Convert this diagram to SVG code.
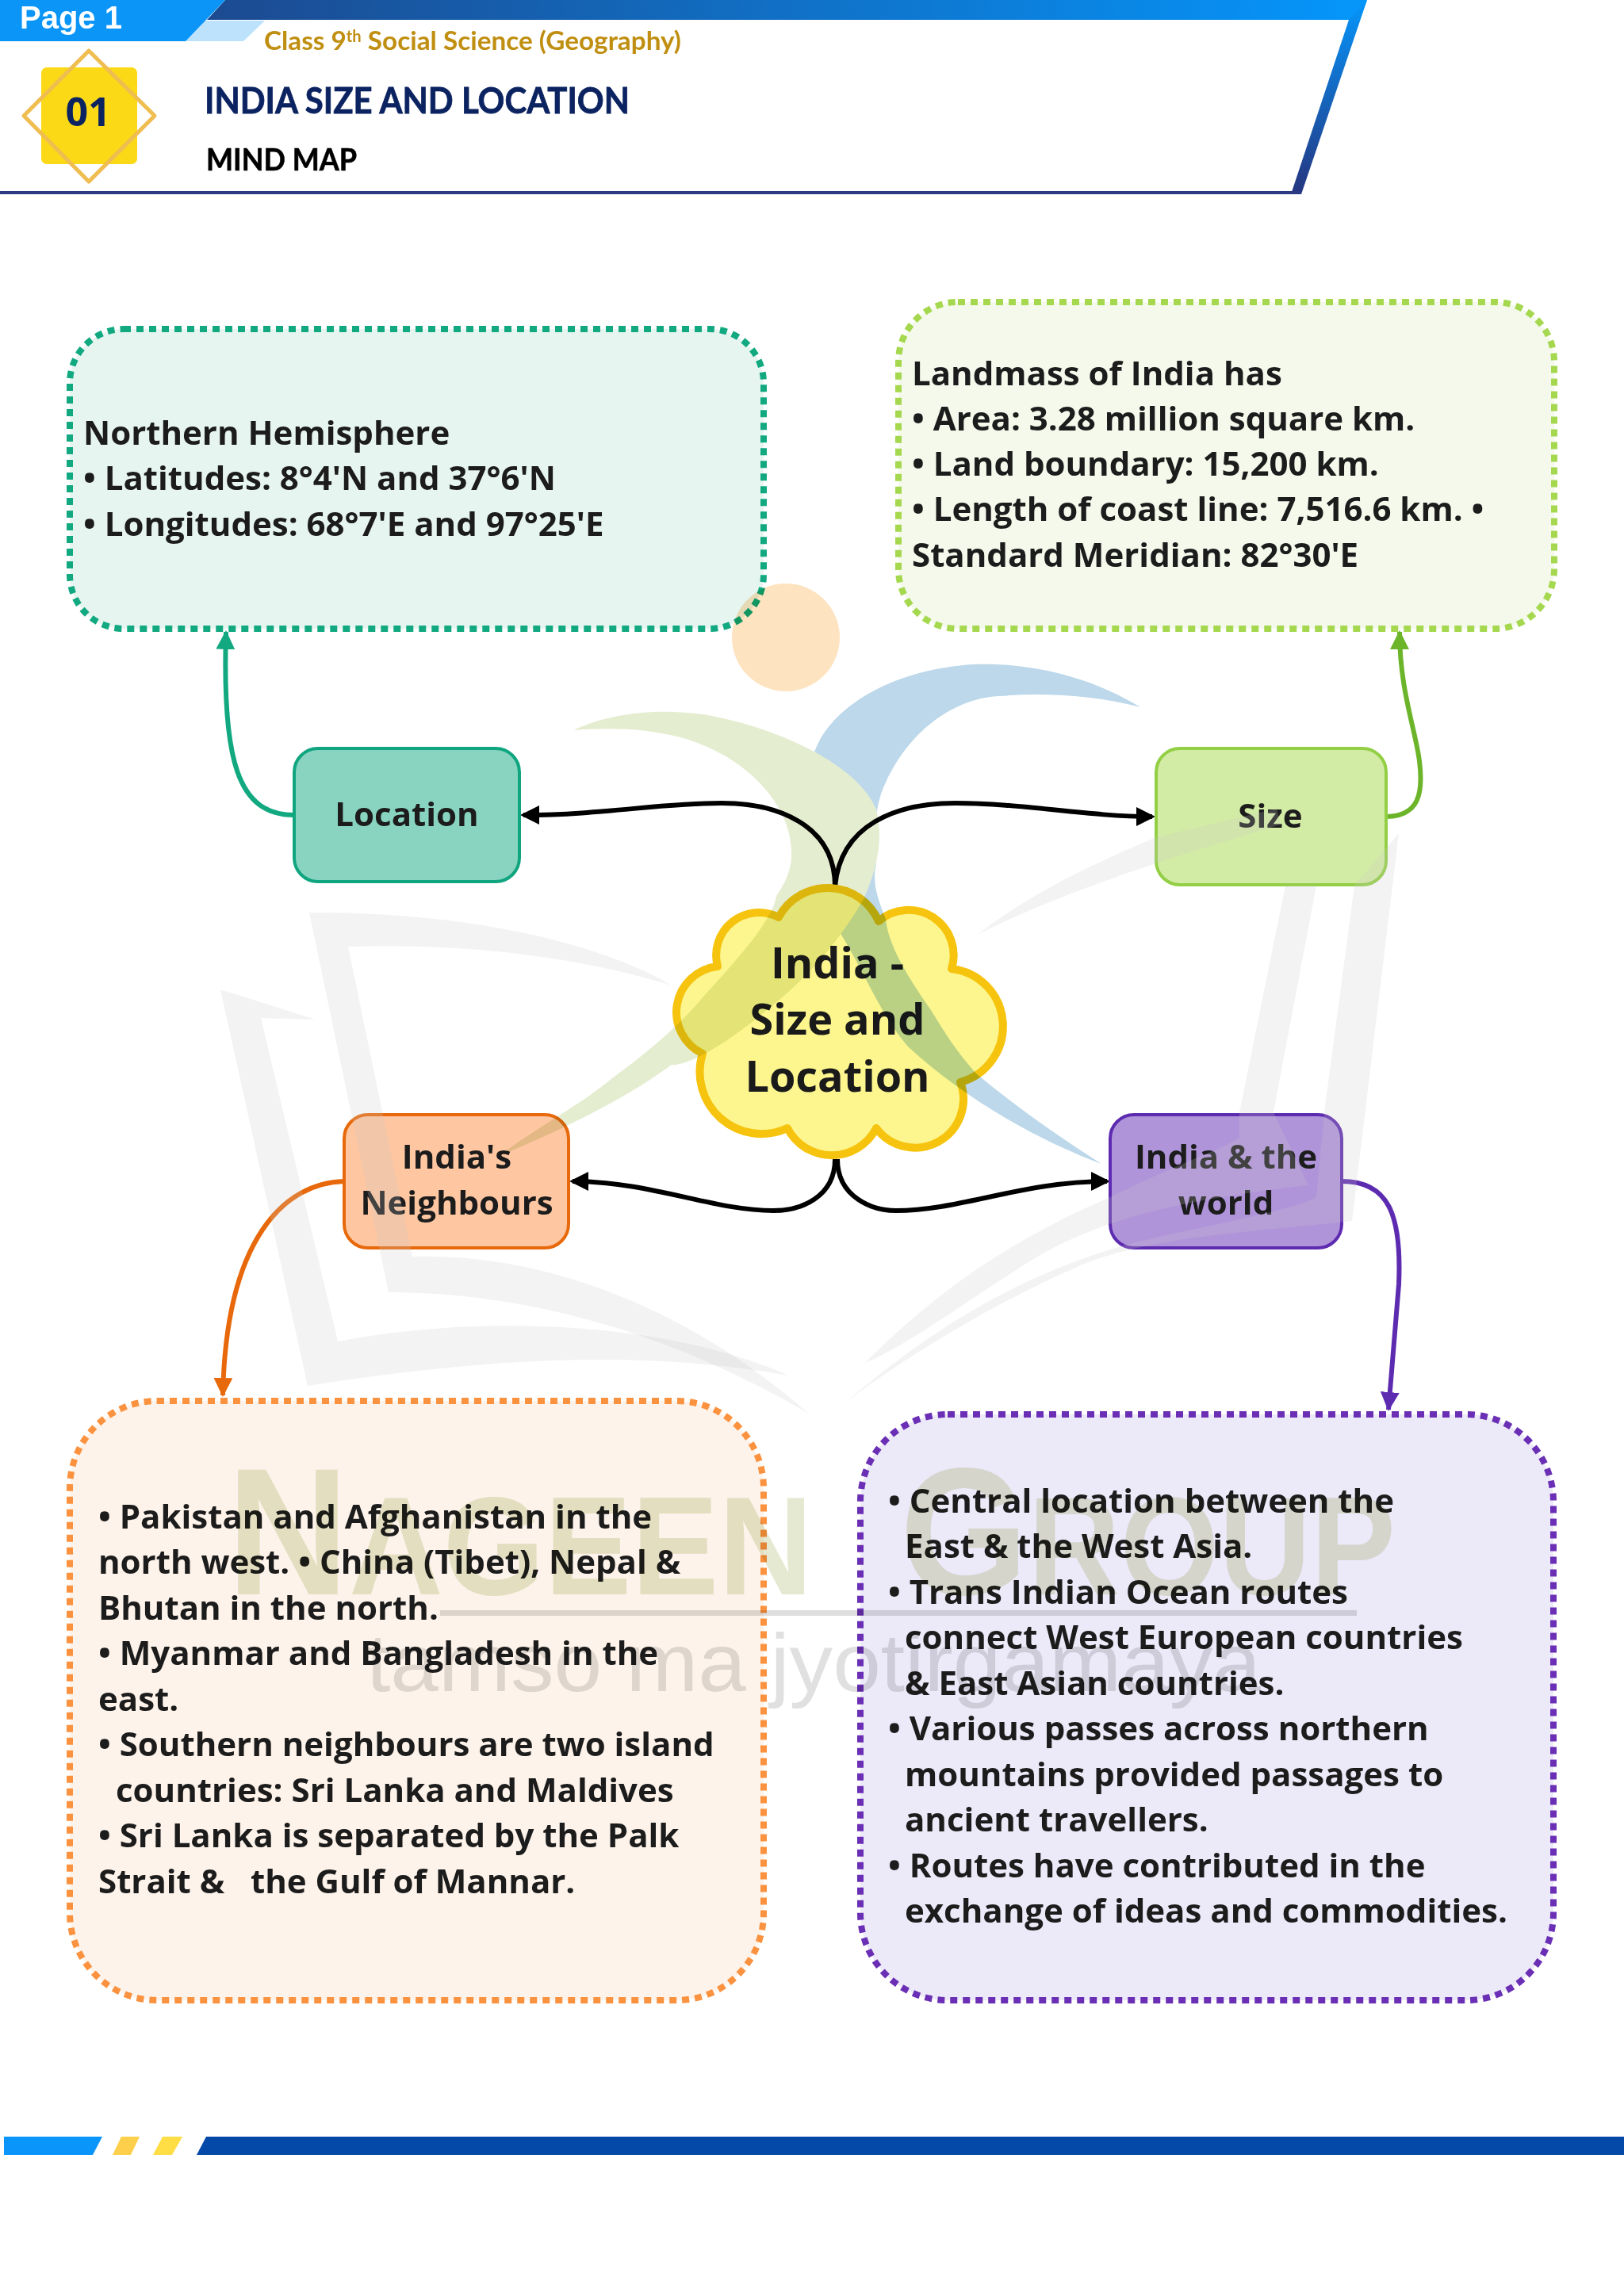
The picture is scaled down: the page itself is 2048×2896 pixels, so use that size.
<svg xmlns="http://www.w3.org/2000/svg" width="2048" height="2896" viewBox="0 0 2048 2896">
<style>
text{font-family:"Open Sans","Noto Sans","Liberation Sans",sans-serif;white-space:pre}
.b{font-size:42px;font-weight:700;fill:#1c1c1c}
.n{font-size:42px;font-weight:700;fill:#1c1c1c;text-anchor:middle}
.c{font-size:54px;font-weight:700;fill:#1a1a1a;text-anchor:middle}
.h{font-family:Lato,"Open Sans",sans-serif;font-weight:700}
.k{fill:none;stroke:#000;stroke-width:6}
.l{fill:none;stroke-width:6}
.d{stroke-width:8;stroke-dasharray:9 7}
.g{fill:#c8c8c8;opacity:.22}
.w{font-family:"Liberation Sans",sans-serif;font-weight:700;fill:#e6e9d2}
</style>
<defs>
<linearGradient id="bar" gradientUnits="userSpaceOnUse" x1="260" y1="0" x2="1724" y2="0"><stop offset="0" stop-color="#1c4a90"/><stop offset="1" stop-color="#0596fb"/></linearGradient>
<linearGradient id="side" gradientUnits="userSpaceOnUse" x1="0" y1="0" x2="0" y2="245"><stop offset="0" stop-color="#0596fb"/><stop offset="1" stop-color="#25357f"/></linearGradient>
<marker id="ak" markerUnits="userSpaceOnUse" markerWidth="26" markerHeight="26" refX="20" refY="13" orient="auto"><path d="M0,1L24,13L0,25Z" fill="#000"/></marker>
<marker id="at" markerUnits="userSpaceOnUse" markerWidth="26" markerHeight="26" refX="22" refY="12" orient="auto"><path d="M0,0L24,12L0,24Z" fill="#12a981"/></marker>
<marker id="as" markerUnits="userSpaceOnUse" markerWidth="26" markerHeight="26" refX="22" refY="12" orient="auto"><path d="M0,0L24,12L0,24Z" fill="#6cb52a"/></marker>
<marker id="ao" markerUnits="userSpaceOnUse" markerWidth="26" markerHeight="26" refX="22" refY="12" orient="auto"><path d="M0,0L24,12L0,24Z" fill="#e8690b"/></marker>
<marker id="ap" markerUnits="userSpaceOnUse" markerWidth="26" markerHeight="26" refX="22" refY="12" orient="auto"><path d="M0,0L24,12L0,24Z" fill="#5d2bb0"/></marker>
</defs>
<rect width="2048" height="2896" fill="#fff"/>
<g id="header">
<path d="M284,0H1724L1714,25H261Z" fill="url(#bar)"/>
<path d="M1724,0L1641,245H1628L1701,25Z" fill="url(#side)"/>
<path d="M0,241H1641V245H0Z" fill="#2c3a85"/>
<path d="M251,26H334L307,52H234Z" fill="#bde2fb"/>
<path d="M0,0H284L234,52H0Z" fill="#0a95f7"/>
<text x="25" y="36" font-size="40" style="font-family:'Liberation Sans',sans-serif;font-weight:700" fill="#fff">Page 1</text>
<text class="h" x="333" y="63" font-size="33" fill="#c08f12" textLength="526" lengthAdjust="spacingAndGlyphs">Class 9<tspan font-size="20" dy="-10">th</tspan><tspan dy="10"> Social Science (Geography)</tspan></text>
<rect x="52" y="85" width="121" height="122" rx="7" fill="#fbd917"/>
<path d="M112,64L195,146L112,229L30,146Z" fill="none" stroke="#efbd50" stroke-width="5" stroke-linejoin="round"/>
<text x="111" y="159" font-size="50" font-weight="700" fill="#0b2360" text-anchor="middle">01</text>
<text class="h" x="258" y="143" font-size="46" fill="#0b2360" textLength="536" lengthAdjust="spacingAndGlyphs" stroke="#0b2360" stroke-width=".8">INDIA SIZE AND LOCATION</text>
<text class="h" x="260" y="215" font-size="38" fill="#000" textLength="190" lengthAdjust="spacingAndGlyphs" stroke="#000" stroke-width=".6">MIND MAP</text>
</g>
<g id="connectors">
<path class="l" d="M371,1028C300,1028 280,960 285,797" stroke="#12a981" marker-end="url(#at)"/>
<path class="l" d="M1747,1030C1790,1030 1795,1000 1790,960C1785,920 1765,870 1765,797" stroke="#6cb52a" marker-end="url(#as)"/>
<path class="l" d="M434,1490C360,1492 285,1560 281,1760" stroke="#e8690b" marker-end="url(#ao)"/>
<path class="l" d="M1692,1490C1750,1490 1768,1530 1764,1620L1751,1778" stroke="#5d2bb0" marker-end="url(#ap)"/>
<path class="k" d="M1053,1118C1053,1040 980,1013 910,1013C830,1013 760,1028 660,1028" marker-end="url(#ak)"/>
<path class="k" d="M1053,1118C1060,1040 1130,1013 1205,1013C1290,1013 1370,1030 1453,1030" marker-end="url(#ak)"/>
<path class="k" d="M1053,1462C1053,1510 1010,1527 975,1527C900,1527 820,1490 722,1490" marker-end="url(#ak)"/>
<path class="k" d="M1056,1462C1056,1510 1100,1527 1130,1527C1210,1527 1290,1490 1396,1490" marker-end="url(#ak)"/>
</g>
<g id="note-location">
<rect class="d" x="88" y="415" width="875" height="378" rx="68" fill="#e7f5f1" stroke="#12a981"/>
<text class="b" x="105" y="561">Northern Hemisphere</text>
<text class="b" x="105" y="618">• Latitudes: 8°4'N and 37°6'N</text>
<text class="b" x="105" y="676">• Longitudes: 68°7'E and 97°25'E</text>
</g>
<g id="note-size">
<rect class="d" x="1133" y="381" width="827" height="412" rx="75" fill="#f4f9ec" stroke="#a5d84f"/>
<text class="b" x="1150" y="486">Landmass of India has</text>
<text class="b" x="1150" y="543">• Area: 3.28 million square km.</text>
<text class="b" x="1150" y="600">• Land boundary: 15,200 km.</text>
<text class="b" x="1150" y="657">• Length of coast line: 7,516.6 km. •</text>
<text class="b" x="1150" y="715">Standard Meridian: 82°30'E</text>
</g>
<g id="note-neighbours">
<rect class="d" x="88" y="1767" width="875" height="756" rx="110" fill="#fdf3ea" stroke="#fb923f"/>
<text class="b" x="124" y="1928">• Pakistan and Afghanistan in the</text>
<text class="b" x="124" y="1985">north west. • China (Tibet), Nepal &amp;</text>
<text class="b" x="124" y="2043">Bhutan in the north.</text>
<text class="b" x="124" y="2100">• Myanmar and Bangladesh in the</text>
<text class="b" x="124" y="2158">east.</text>
<text class="b" x="124" y="2215">• Southern neighbours are two island</text>
<text class="b" x="146" y="2273">countries: Sri Lanka and Maldives</text>
<text class="b" x="124" y="2330">• Sri Lanka is separated by the Palk</text>
<text class="b" x="124" y="2388">Strait &amp;   the Gulf of Mannar.</text>
</g>
<g id="note-world">
<rect class="d" x="1085" y="1784" width="874" height="739" rx="110" fill="#ece9f8" stroke="#6a2fb5"/>
<text class="b" x="1120" y="1908">• Central location between the</text>
<text class="b" x="1141" y="1965">East &amp; the West Asia.</text>
<text class="b" x="1120" y="2023">• Trans Indian Ocean routes</text>
<text class="b" x="1141" y="2080">connect West European countries</text>
<text class="b" x="1141" y="2138">&amp; East Asian countries.</text>
<text class="b" x="1120" y="2195">• Various passes across northern</text>
<text class="b" x="1141" y="2253">mountains provided passages to</text>
<text class="b" x="1141" y="2310">ancient travellers.</text>
<text class="b" x="1120" y="2368">• Routes have contributed in the</text>
<text class="b" x="1141" y="2425">exchange of ideas and commodities.</text>
</g>
<g id="node-location">
<rect x="371" y="944" width="284" height="168" rx="30" fill="#88d4c0" stroke="#0fa57f" stroke-width="4"/>
<text class="n" x="513" y="1042">Location</text>
</g>
<g id="node-size">
<rect x="1458" y="944" width="290" height="172" rx="30" fill="#d2eca5" stroke="#93cf45" stroke-width="4"/>
<text class="n" x="1602" y="1044">Size</text>
</g>
<g id="node-neighbours">
<rect x="434" y="1406" width="283" height="168" rx="30" fill="#fec6a1" stroke="#e8690b" stroke-width="4"/>
<text class="n" x="576" y="1474">India's</text>
<text class="n" x="576" y="1532">Neighbours</text>
</g>
<g id="node-world">
<rect x="1400" y="1406" width="292" height="168" rx="30" fill="#b094da" stroke="#5d2bb0" stroke-width="4"/>
<text class="n" x="1546" y="1474">India &amp; the</text>
<text class="n" x="1546" y="1532">world</text>
</g>
<g id="node-center">
<path d="M982,1157A70,70 0 0 1 1108,1162A57,57 0 0 1 1200,1222A73,73 0 0 1 1211,1365A61,61 0 0 1 1105,1423A63,63 0 0 1 993,1423A78,78 0 0 1 886,1329A58,58 0 0 1 905,1219A54,54 0 0 1 982,1157Z" fill="#fdf68f" stroke="#f6c40f" stroke-width="10" stroke-linejoin="round"/>
<text class="c" x="1056" y="1234">India -</text>
<text class="c" x="1056" y="1305">Size and</text>
<text class="c" x="1056" y="1377">Location</text>
</g>
<g id="footer">
<path d="M5,2695H129L117,2718H5Z" fill="#0a95fb"/>
<path d="M153,2695H176L165,2718H142Z" fill="#fdcf4a"/>
<path d="M205,2695H230L217,2718H193Z" fill="#fedd45"/>
<path d="M260,2695H2048V2718H248Z" fill="#0448a8"/>
</g>
<g id="watermark-book">
<path class="g" d="M390,1151C560,1150 740,1180 847,1243C720,1205 590,1190 439,1194L520,1585C700,1580 880,1660 1020,1783C860,1690 680,1630 490,1630Z"/>
<path class="g" d="M278,1248L398,1286L329,1284L426,1692C620,1655 850,1670 995,1735C800,1700 600,1715 388,1748Z"/>
<path class="g" d="M1234,1178C1300,1125 1400,1080 1458,1056L1610,1020L1615,1040C1480,1080 1340,1125 1234,1178Z"/>
<path class="g" d="M1621,1117H1660L1606,1403L1650,1495C1520,1510 1400,1530 1305,1587C1220,1640 1140,1700 1091,1719C1170,1640 1260,1570 1400,1510C1480,1470 1540,1450 1563,1435L1563,1403Z"/>
<path class="g" d="M1708,1117L1764,1051L1705,1540C1570,1555 1440,1560 1354,1600C1240,1650 1130,1720 1065,1770C1170,1680 1280,1610 1420,1570C1520,1545 1620,1530 1660,1510L1670,1403Z"/>
</g>
<g id="watermark-logo" style="mix-blend-mode:multiply">
<circle cx="991" cy="804" r="68" fill="#fde3c0"/>
<path d="M1438,892C1370,850 1290,835 1226,838C1130,845 1060,885 1033,935C1000,1000 1000,1100 1059,1176C1090,1225 1110,1280 1145,1320C1210,1380 1300,1435 1389,1468C1330,1430 1280,1395 1231,1354C1205,1325 1190,1300 1174,1274C1140,1225 1120,1190 1117,1159C1105,1130 1100,1110 1105,1090C1100,1050 1105,1010 1117,987C1150,915 1210,880 1260,878C1320,873 1385,878 1438,892Z" fill="#bcd8ea"/>
<path d="M723,921C780,895 840,895 887,901C970,915 1080,960 1105,1021C1115,1060 1105,1100 1088,1136C1050,1200 1010,1240 967,1274C900,1330 860,1345 847,1343C790,1385 710,1425 629,1458C680,1420 730,1395 772,1360C820,1325 860,1290 887,1257C930,1210 975,1160 979,1130C1000,1100 1000,1080 996,1056C985,1000 930,950 858,930C810,918 770,918 723,921Z" fill="#e5edd1"/>
<text class="w" x="286" y="2011" font-size="176" textLength="739" lengthAdjust="spacingAndGlyphs"><tspan font-size="228">N</tspan>AGEEN</text>
<text class="w" x="1135" y="2011" font-size="176" textLength="625" lengthAdjust="spacingAndGlyphs"><tspan font-size="228">G</tspan>ROUP</text>
<rect x="555" y="2031" width="1156" height="7" fill="#dedede"/>
<text x="462" y="2133" font-size="104" textLength="1128" lengthAdjust="spacingAndGlyphs" style="font-family:'Liberation Sans',sans-serif" fill="#e0e0e0">tamso ma jyotirgamaya</text>
</g>
</svg>
